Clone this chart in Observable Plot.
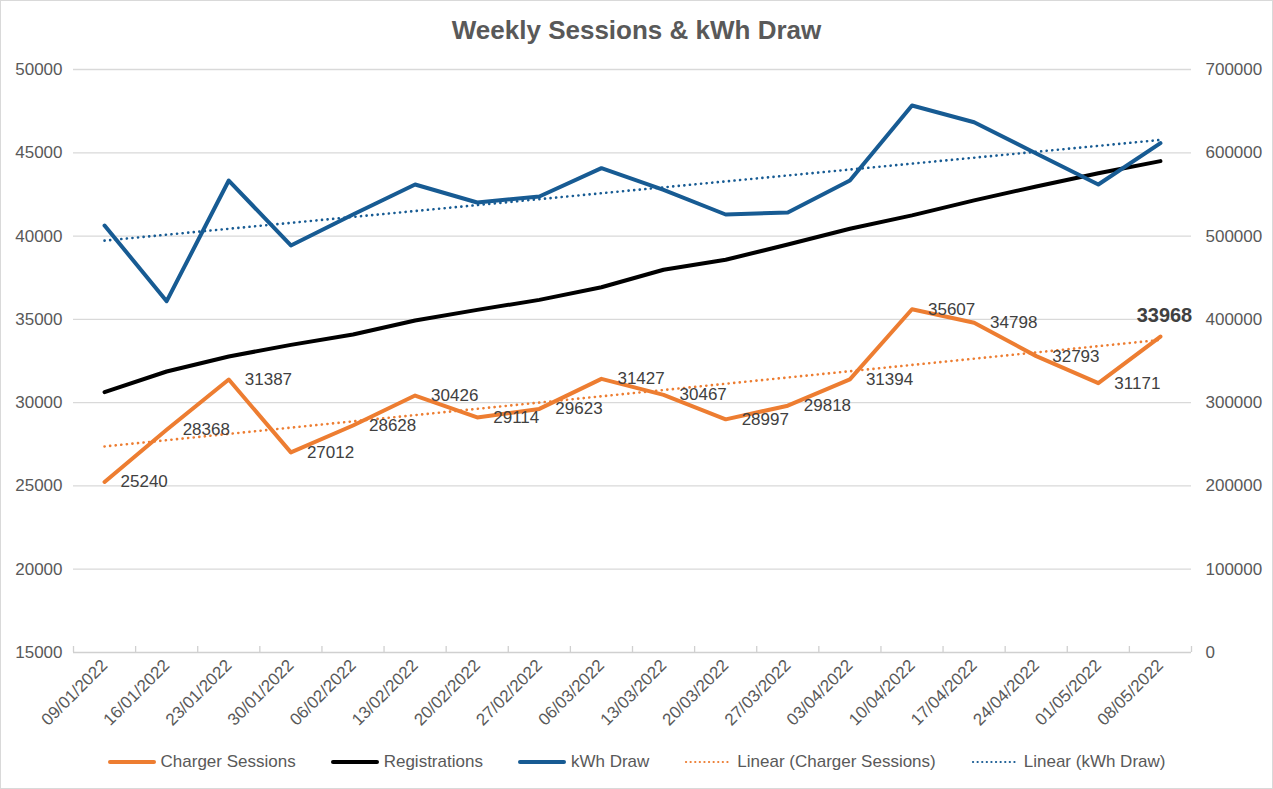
<!DOCTYPE html>
<html><head><meta charset="utf-8">
<script src="https://cdn.jsdelivr.net/npm/d3@7"></script>
<script src="https://cdn.jsdelivr.net/npm/@observablehq/plot@0.6"></script>
<style>
html,body{margin:0;padding:0;background:#fff;}
#chart{position:relative;width:1273px;height:789px;box-sizing:border-box;border:1px solid #d9d9d9;background:#fff;font-family:"Liberation Sans",Arial,sans-serif;overflow:hidden;}
#title{position:absolute;left:0;top:0;width:100%;height:58px;line-height:58px;text-align:center;font-weight:bold;font-size:26px;color:#595959;}
#plot{position:absolute;left:0;top:49px;}
#legend{position:absolute;left:0;top:744px;width:100%;height:34px;display:flex;justify-content:center;align-items:center;gap:35px;font-size:17px;color:#595959;}
.item{display:flex;align-items:center;gap:5px;white-space:nowrap;}
</style></head><body>
<div id="chart"><div id="title">Weekly Sessions &amp; kWh Draw</div><div id="plot"></div><div id="legend"></div></div>
<script>
const weeks = ["09/01/2022","16/01/2022","23/01/2022","30/01/2022","06/02/2022","13/02/2022","20/02/2022","27/02/2022","06/03/2022","13/03/2022","20/03/2022","27/03/2022","03/04/2022","10/04/2022","17/04/2022","24/04/2022","01/05/2022","08/05/2022"];
const chargerSessions = [25240,28368,31387,27012,28628,30426,29114,29623,31427,30467,28997,29818,31394,35607,34798,32793,31171,33968];
const registrations = [30630,31870,32770,33470,34090,34930,35570,36170,36930,37980,38580,39490,40440,41240,42140,42980,43770,44500];
const kwhDraw = [512700,421800,566700,488700,525900,561900,540300,547500,581500,555500,525900,528400,566700,656800,636700,599100,561900,611500];
const leftTicks = [15000,20000,25000,30000,35000,40000,45000,50000];
const rightTicks = [0,100000,200000,300000,400000,500000,600000,700000];
const seriesNames = ["Charger Sessions","Registrations","kWh Draw","Linear (Charger Sessions)","Linear (kWh Draw)"];
const seriesColors = ["#ED7D31","#000000","#175B93","#ED7D31","#175B93"];
const seriesDotted = [false,false,false,true,true];

const ORANGE = seriesColors[0], BLACK = seriesColors[1], BLUE = seriesColors[2];
const parse = d3.utcParse("%d/%m/%Y");
const fmt = d3.utcFormat("%d/%m/%Y");
const rows = weeks.map((w,i)=>({date: parse(w), label: w, sessions: chargerSessions[i], reg: registrations[i], kwh: kwhDraw[i]}));
const toLeft = d3.scaleLinear([rightTicks[0], rightTicks[rightTicks.length-1]], [leftTicks[0], leftTicks[leftTicks.length-1]]);
const halfWeek = 3.5*864e5;
const boundaries = rows.map(d=>new Date(+d.date - halfWeek)).concat([new Date(+rows[rows.length-1].date + halfWeek)]);
const xDomain = [boundaries[0], boundaries[boundaries.length-1]];
const lineOpts = {strokeWidth:4, strokeLinejoin:"round", strokeLinecap:"round"};
const dotOpts = {strokeWidth:2.6, strokeDasharray:"0.1 5.5", strokeLinecap:"round", ci:0};

const chart = Plot.plot({
  width:1271, height:695, marginTop:19, marginBottom:93, marginLeft:72, marginRight:81,
  style:{fontFamily:'"Liberation Sans", Arial, sans-serif', fontSize:"17px", background:"transparent", overflow:"visible"},
  x:{type:"utc", domain:xDomain},
  y:{domain:[leftTicks[0], leftTicks[leftTicks.length-1]]},
  marks:[
    Plot.gridY(leftTicks.slice(1), {stroke:"#d9d9d9", strokeOpacity:1, strokeWidth:1.3}),
    Plot.ruleY(leftTicks.slice(0,1), {stroke:"#d0d0d0", strokeWidth:1.3}),
    Plot.axisX(boundaries, {tickSize:6, dy:-6, tickFormat:()=>"", stroke:"#d0d0d0", strokeWidth:1.3, label:null}),
    Plot.axisX(rows.map(d=>d.date), {tickFormat:fmt, tickRotate:-45, tickSize:0, tickPadding:10, color:"#595959", label:null}),
    Plot.axisY(leftTicks, {anchor:"left", tickSize:0, tickPadding:11, tickFormat:d=>String(d), color:"#595959", label:null}),
    Plot.axisY(rightTicks.map(v=>toLeft(v)), {anchor:"right", tickSize:0, tickPadding:14, tickFormat:v=>String(Math.round(toLeft.invert(v))), color:"#595959", label:null}),
    Plot.lineY(rows, {x:"date", y:"sessions", stroke:ORANGE, ...lineOpts}),
    Plot.lineY(rows, {x:"date", y:"reg", stroke:BLACK, ...lineOpts}),
    Plot.lineY(rows, {x:"date", y:d=>toLeft(d.kwh), stroke:BLUE, ...lineOpts}),
    Plot.linearRegressionY(rows, {x:"date", y:"sessions", stroke:ORANGE, ...dotOpts}),
    Plot.linearRegressionY(rows, {x:"date", y:d=>toLeft(d.kwh), stroke:BLUE, ...dotOpts}),
    Plot.text(rows.slice(0,-1), {x:"date", y:"sessions", text:d=>String(d.sessions), dx:16, textAnchor:"start", fill:"#404040", fontSize:17}),
    Plot.text(rows.slice(-1), {x:"date", y:"sessions", text:d=>String(d.sessions), dx:4, dy:-21, textAnchor:"middle", fill:"#404040", fontSize:20, fontWeight:"bold"})
  ]
});
document.getElementById("plot").appendChild(chart);

const legend = document.getElementById("legend");
seriesNames.forEach((name,i)=>{
  const item = document.createElement("div");
  item.className = "item";
  const dash = seriesDotted[i] ? ' stroke-dasharray="0.1 4.5"' : '';
  const w = seriesDotted[i] ? 2.2 : 4;
  item.innerHTML = `<svg width="48" height="10"><line x1="2" y1="5" x2="46" y2="5" stroke="${seriesColors[i]}" stroke-width="${w}" stroke-linecap="round"${dash}/></svg><span>${name}</span>`;
  legend.appendChild(item);
});
</script>
</body></html>
